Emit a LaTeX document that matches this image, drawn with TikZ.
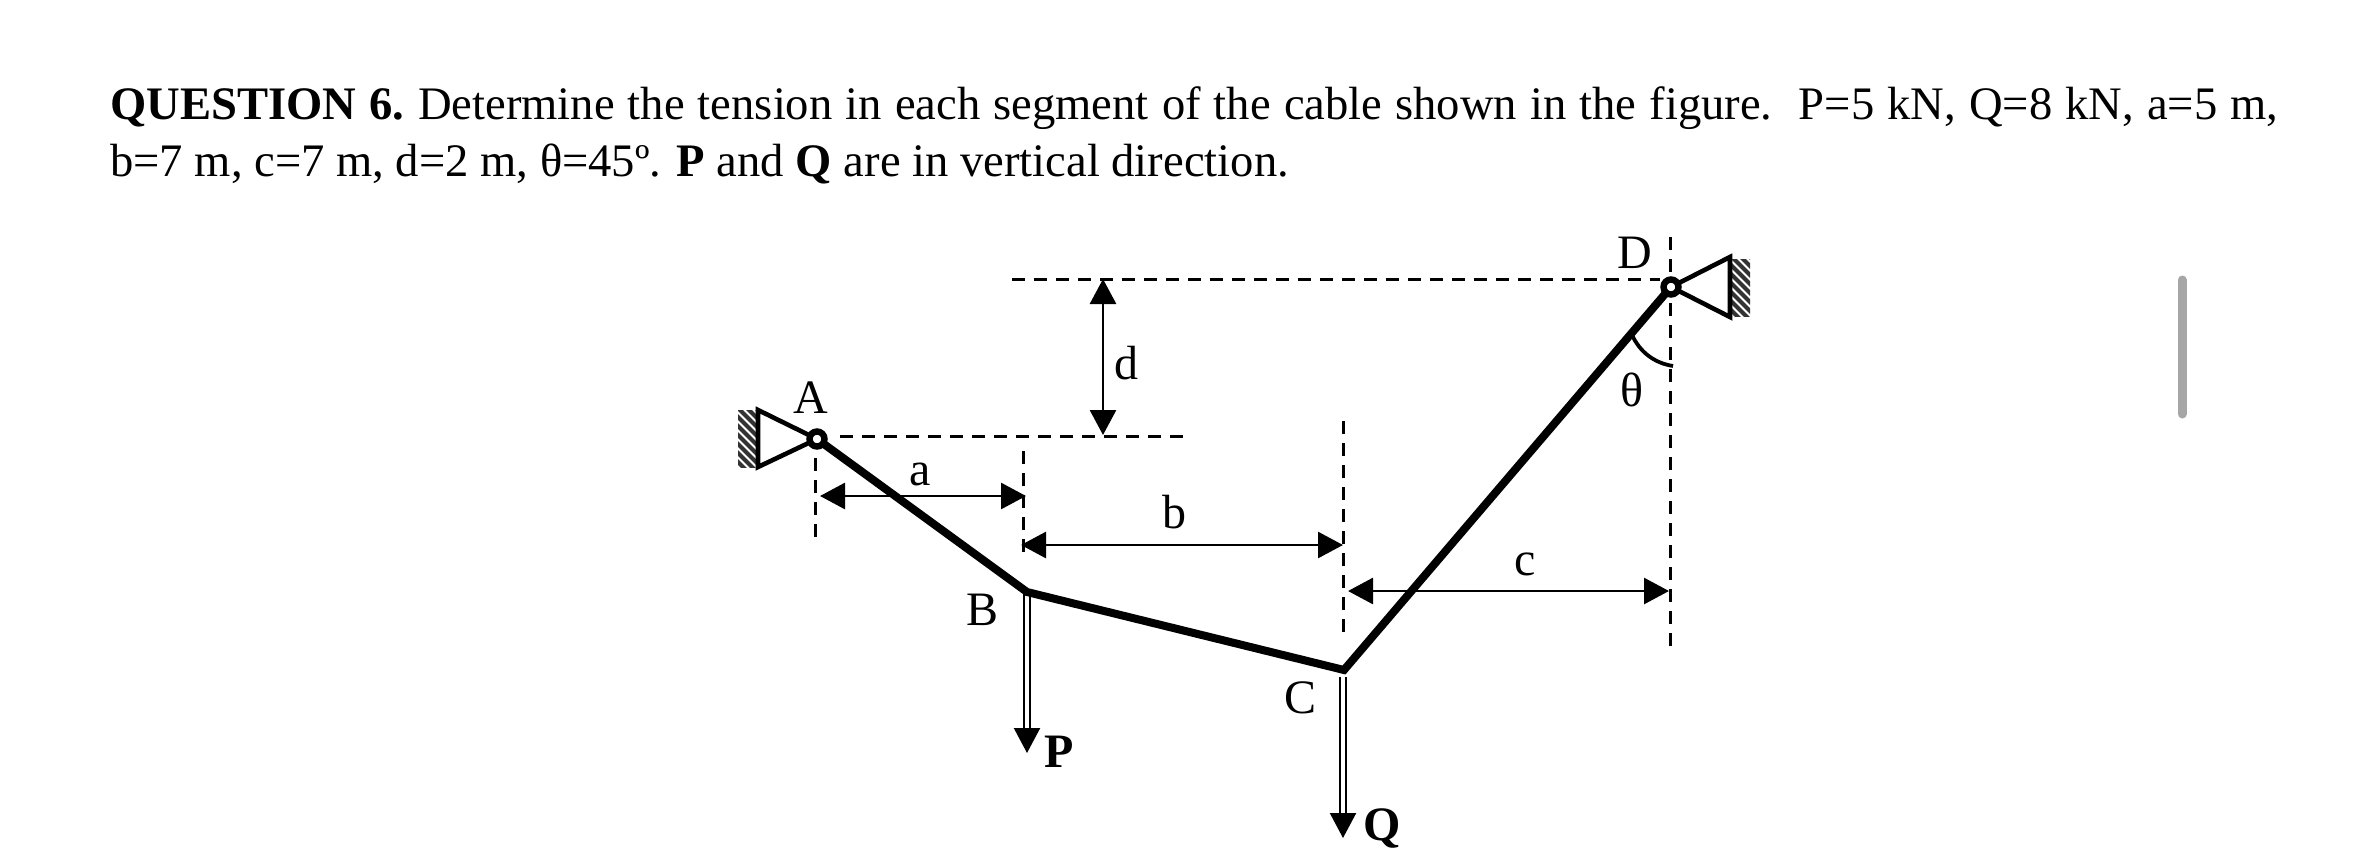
\documentclass[tikz,border=0pt]{standalone}
\usepackage{fontspec}
\setmainfont{Liberation Serif}
\usetikzlibrary{arrows.meta}
\definecolor{barcol}{HTML}{A6A6A6}
\tikzset{
  x=0.5pt,y=-0.5pt,
  cable/.style={line width=4pt,line join=miter},
  dimline/.style={line width=1.4pt,{Triangle[length=12.5pt,width=13pt]}-{Triangle[length=12.5pt,width=13pt]}},
  guide/.style={line width=1.5pt,dash pattern=on 6.5pt off 4.5pt},
  force/.style={line width=1.1pt,double,double distance=1.6pt,-{Triangle[length=12.5pt,width=13pt,sep=0pt]}},
  support/.style={line width=2.3pt,line join=miter},
  pin/.style={circle,draw,fill=white,line width=3.2pt,inner sep=0pt,minimum size=7.5pt},
  lab/.style={inner sep=0pt,font=\fontsize{24pt}{26pt}\selectfont},
  blab/.style={inner sep=0pt,font=\fontsize{24pt}{26pt}\selectfont\bfseries},
  body/.style={inner sep=0pt,anchor=base west,font=\fontsize{23.3pt}{26pt}\selectfont},
}
\begin{document}
\begin{tikzpicture}
\useasboundingbox (0,0) rectangle (2373,857);
% text
\node[body] (line1) at (110,119) {\makebox[1084pt][s]{\textbf{QUESTION 6.}\kern6.8pt Determine the tension in each segment of the cable shown in the figure.\ \ P=5 kN, Q=8 kN, a=5 m,}};
\node[body] (line2) at (110,176) {b=7 m, c=7 m, d=2 m, θ=45º. \textbf{P} and \textbf{Q} are in vertical direction.};
% points
\coordinate (A) at (817,439);
\coordinate (B) at (1027,592);
\coordinate (C) at (1344,670);
\coordinate (D) at (1671,287);
\coordinate (Ptip) at (1027,753);
\coordinate (Qtip) at (1343,838);
% guides
\coordinate (g1a) at (840,436); \coordinate (g1b) at (1183,436);
\coordinate (g2a) at (1012,279); \coordinate (g2b) at (1660,279);
\coordinate (g3a) at (815,458); \coordinate (g3b) at (815,538);
\coordinate (g4a) at (1023,451); \coordinate (g4b) at (1023,553);
\coordinate (g5a) at (1343,421); \coordinate (g5b) at (1343,632);
\coordinate (g6a) at (1670,237); \coordinate (g6b) at (1670,652);
\draw[guide] (g1a) -- (g1b);
\draw[guide] (g2a) -- (g2b);
\draw[guide] (g3a) -- (g3b);
\draw[guide] (g4a) -- (g4b);
\draw[guide] (g5a) -- (g5b);
\draw[guide] (g6a) -- (g6b);
% dimensions
\coordinate (a1) at (820,496); \coordinate (a2) at (1026,496);
\coordinate (b1) at (1021,545); \coordinate (b2) at (1343,545);
\coordinate (c1) at (1348,591); \coordinate (c2) at (1669,591);
\coordinate (d1) at (1103,279); \coordinate (d2) at (1103,435);
\draw[dimline] (a1) -- (a2);
\draw[dimline] (b1) -- (b2);
\draw[dimline] (c1) -- (c2);
\draw[dimline] (d1) -- (d2);
% hatched walls
\begin{scope}
\clip (738,410) rectangle (757,467);
\foreach \s in {-6,...,8} \draw[line width=2pt,black!80] (730,400+\s*9) -- (770,440+\s*9);
\end{scope}
\begin{scope}
\clip (1732,259) rectangle (1750,316);
\foreach \s in {-6,...,8} \draw[line width=2pt,black!80] (1725,250+\s*9) -- (1765,290+\s*9);
\end{scope}
% supports
\coordinate (At) at (758,410); \coordinate (Ab) at (758,467);
\coordinate (Dt) at (1730,257); \coordinate (Db) at (1730,317);
\draw[support] (A) -- (At) -- (Ab) -- cycle;
\draw[support] (D) -- (Dt) -- (Db) -- cycle;
% forces
\draw[force] (B) -- (Ptip);
\draw[force] (1343,677) -- (Qtip);
% cable
\draw[cable] (A) -- (B) -- (C) -- (D);
\node[pin] (pinA) at (A) {};
\node[pin] (pinD) at (D) {};
% angle
\coordinate (th1) at (1632,335); \coordinate (th2) at (1673,366);
\draw[line width=1.9pt] (th1) .. controls (1640,352) and (1654,363) .. (th2);
% labels
\node[lab] (lA) at (811,398) {A};
\node[lab] (lB) at (982,610) {B};
\node[lab] (lC) at (1300,698) {C};
\node[lab] (lD) at (1635,253) {D};
\node[lab] (la) at (920,474) {a};
\node[lab] (lb) at (1174,512) {b};
\node[lab] (lc) at (1525,564) {c};
\node[lab] (ld) at (1126,363) {d};
\node[lab] (lth) at (1632,390) {θ};
\node[blab] (lP) at (1059,752) {P};
\node[blab] (lQ) at (1382,828) {Q};
% scrollbar
\draw[line width=4.5pt,line cap=round,barcol] (2182,280) -- (2182,414);
\end{tikzpicture}
\end{document}
